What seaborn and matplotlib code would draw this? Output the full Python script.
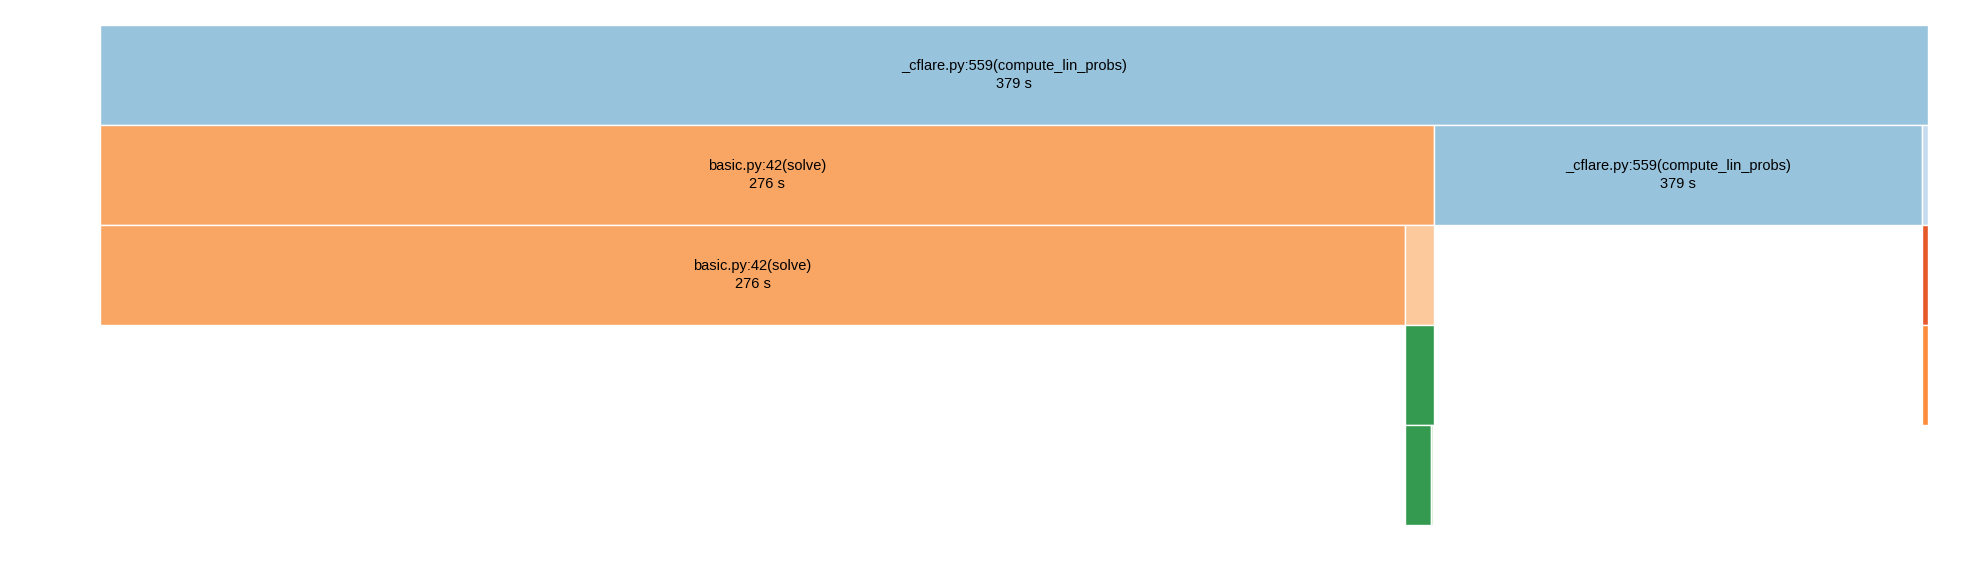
import matplotlib
matplotlib.use("Agg")
import matplotlib.pyplot as plt
import seaborn as sns

sns.set_style("white")
plt.rcParams['font.family'] = ['Liberation Sans', 'DejaVu Sans']

# icicle blocks: name, depth, start (s), width (s), colour
names = ["_cflare.py:559(compute_lin_probs)", "basic.py:42(solve)",
         "_cflare.py:559(compute_lin_probs)", "", "basic.py:42(solve)", "",
         "", "", "", "", "", ""]
depths = [0, 1, 1, 1, 2, 2, 2, 3, 3, 4, 4, 5]
starts = [0, 0, 276.6, 377.8, 0, 270.6, 377.8, 270.6, 377.8, 270.6, 276.0, 276.2]
widths = [379, 276.6, 101.2, 1.2, 270.6, 6.0, 1.2, 6.0, 1.2, 5.4, 0.4, 0.2]
labels = ["379 s", "276 s", "379 s", "", "276 s", "", "", "", "", "", "", ""]
colors = ["#98c3dc", "#f9a665", "#98c3dc", "#c6dbef", "#f9a665", "#fbc99c",
          "#e5592a", "#339a4f", "#fd8d3c", "#339a4f", "#c7e9c0", "#c7e9c0"]

fig = plt.figure(figsize=(19.71, 5.8), dpi=100)
ax = fig.add_axes([100 / 1971, 0, 1828 / 1971, 555 / 580])
for n, d, s, w, lab, c in zip(names, depths, starts, widths, labels, colors):
    ax.barh(d + 0.5, w, left=s, height=1, color=c, edgecolor="white", linewidth=1)
    if n:
        ax.text(s + w / 2, d + 0.5, n + "\n" + lab, ha="center", va="center",
                fontsize=10.5, color="black", linespacing=1.4)
ax.set_xlim(0, 379)
ax.set_ylim(5.55, 0)
ax.axis("off")
fig.savefig("out.png", dpi=100)
